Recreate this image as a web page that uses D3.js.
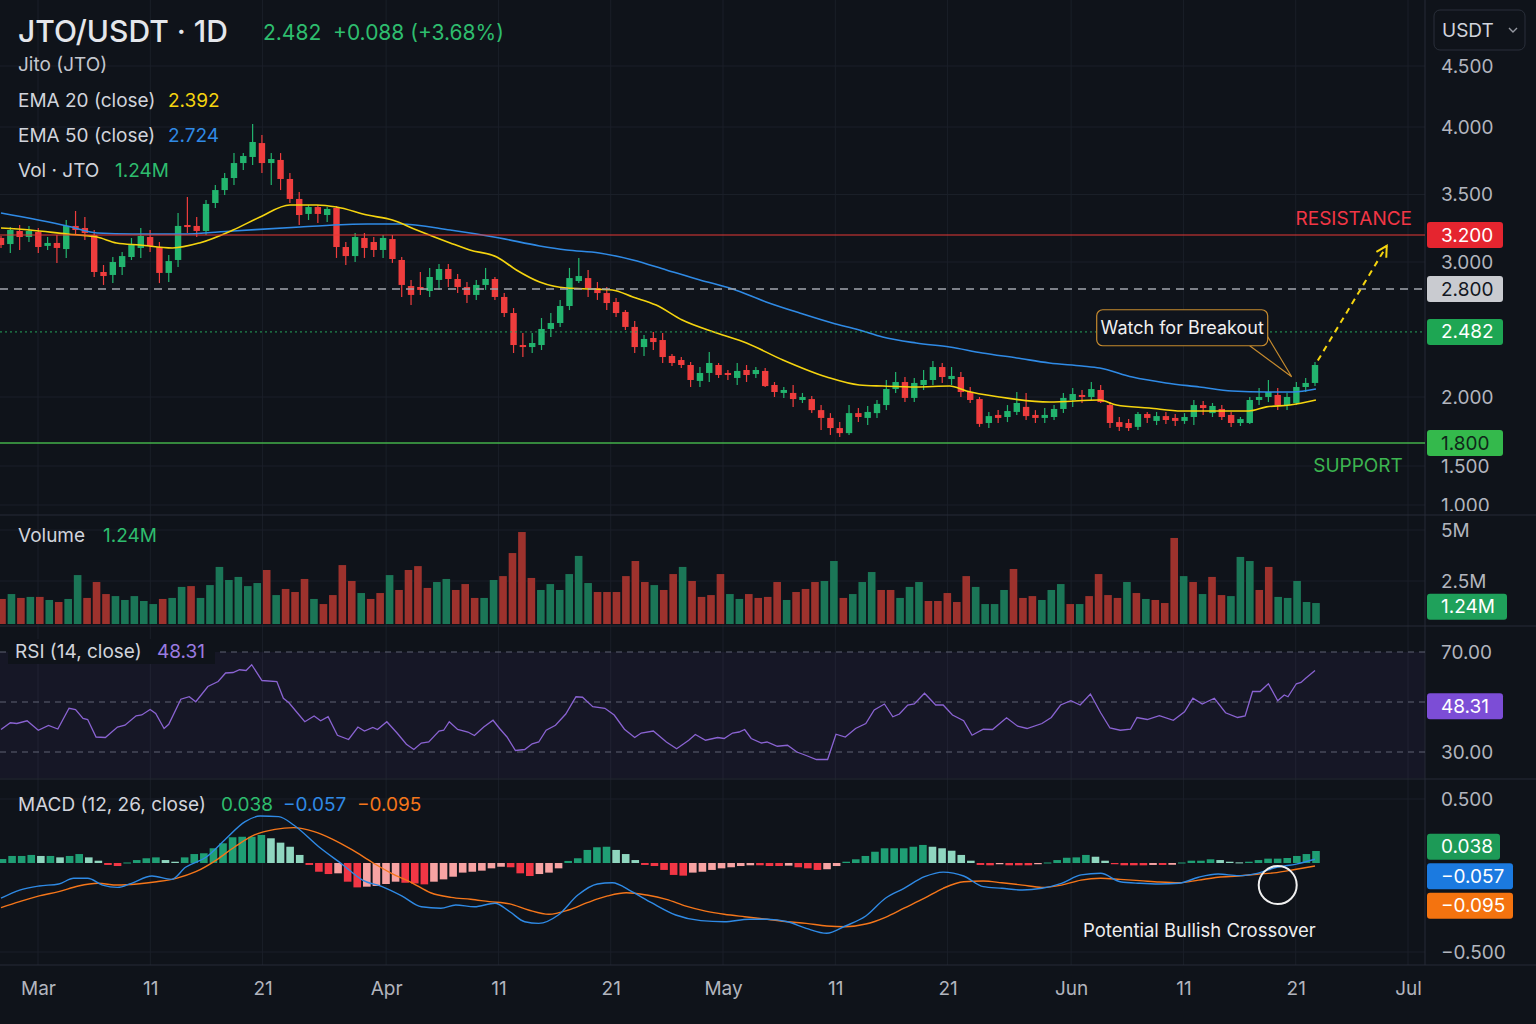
<!DOCTYPE html>
<html><head><meta charset="utf-8">
<script src="https://cdn.jsdelivr.net/npm/d3@7"></script>
<style>
html,body{margin:0;padding:0;background:#0f131a;}
svg{display:block;font-family:Inter,"Noto Sans",Roboto,sans-serif;}
</style></head><body>
<svg id="c" width="1536" height="1024"></svg>
<script>
// ---------------- DATA ----------------
// Daily candles [open, high, low, close]
const candles = [
[3.178,3.193,3.104,3.126],[3.133,3.259,3.067,3.237],[3.230,3.274,3.089,3.185],[3.185,3.267,3.148,3.230],[3.222,3.252,3.067,3.111],
[3.119,3.185,3.089,3.141],[3.141,3.200,2.993,3.104],[3.096,3.311,3.030,3.267],[3.267,3.378,3.200,3.237],[3.252,3.333,3.163,3.215],
[3.200,3.237,2.889,2.926],[2.926,2.978,2.830,2.896],[2.904,3.037,2.844,3.000],[2.963,3.074,2.904,3.044],[3.037,3.178,3.015,3.126],
[3.104,3.252,3.030,3.193],[3.185,3.237,3.074,3.119],[3.111,3.148,2.844,2.919],[2.919,3.052,2.852,3.007],[3.015,3.363,2.963,3.267],
[3.274,3.481,3.215,3.259],[3.267,3.333,3.185,3.230],[3.230,3.459,3.200,3.430],[3.437,3.570,3.400,3.533],[3.533,3.659,3.496,3.622],
[3.622,3.807,3.570,3.733],[3.733,3.807,3.681,3.785],[3.778,4.025,3.719,3.889],[3.881,3.941,3.659,3.733],[3.733,3.807,3.570,3.763],
[3.756,3.807,3.533,3.615],[3.615,3.659,3.437,3.467],[3.467,3.519,3.274,3.348],[3.356,3.422,3.311,3.407],[3.407,3.422,3.289,3.356],
[3.348,3.407,3.296,3.393],[3.400,3.415,3.030,3.111],[3.111,3.148,2.978,3.044],[3.044,3.215,3.000,3.185],[3.178,3.215,3.030,3.104],
[3.148,3.185,3.037,3.089],[3.089,3.200,3.030,3.178],[3.170,3.200,2.993,3.022],[3.015,3.037,2.741,2.830],[2.822,2.867,2.681,2.756],
[2.815,2.926,2.756,2.793],[2.785,2.956,2.741,2.889],[2.867,2.985,2.793,2.948],[2.948,2.985,2.815,2.874],[2.874,2.911,2.770,2.815],
[2.815,2.852,2.696,2.756],[2.756,2.867,2.719,2.830],[2.830,2.956,2.793,2.874],[2.874,2.889,2.719,2.741],[2.741,2.770,2.593,2.622],
[2.622,2.659,2.326,2.385],[2.385,2.474,2.296,2.370],[2.370,2.474,2.326,2.400],[2.385,2.585,2.348,2.504],[2.504,2.622,2.444,2.548],
[2.548,2.719,2.519,2.674],[2.674,2.956,2.644,2.881],[2.859,3.030,2.844,2.896],[2.881,2.941,2.741,2.807],[2.807,2.852,2.719,2.770],
[2.770,2.815,2.644,2.696],[2.704,2.733,2.593,2.622],[2.630,2.644,2.496,2.519],[2.519,2.563,2.326,2.370],[2.370,2.459,2.304,2.430],
[2.437,2.481,2.348,2.407],[2.422,2.474,2.252,2.296],[2.304,2.319,2.230,2.252],[2.274,2.296,2.215,2.237],[2.237,2.259,2.074,2.126],
[2.119,2.222,2.074,2.178],[2.178,2.333,2.111,2.252],[2.237,2.252,2.141,2.163],[2.178,2.200,2.126,2.163],[2.141,2.252,2.089,2.193],
[2.200,2.237,2.111,2.163],[2.170,2.222,2.141,2.200],[2.193,2.215,2.074,2.081],[2.089,2.111,2.000,2.037],[2.030,2.074,1.996,2.052],
[2.030,2.089,1.957,1.991],[1.987,2.030,1.974,2.000],[1.991,2.007,1.930,1.943],[1.943,1.965,1.857,1.909],[1.909,1.930,1.835,1.865],
[1.865,1.891,1.826,1.843],[1.843,1.965,1.835,1.930],[1.930,1.952,1.891,1.913],[1.909,1.961,1.878,1.935],[1.930,1.987,1.909,1.970],
[1.965,2.126,1.943,2.059],[2.059,2.185,2.030,2.111],[2.111,2.148,1.978,1.996],[1.996,2.141,1.978,2.104],[2.089,2.200,2.052,2.126],
[2.126,2.267,2.089,2.222],[2.222,2.252,2.104,2.148],[2.133,2.222,2.089,2.156],[2.148,2.185,2.000,2.037],[2.037,2.074,1.974,1.987],
[1.991,2.000,1.870,1.883],[1.887,1.935,1.865,1.917],[1.922,1.943,1.887,1.909],[1.913,1.965,1.891,1.939],[1.935,2.037,1.922,1.974],
[1.957,2.030,1.900,1.917],[1.922,1.943,1.887,1.909],[1.909,1.952,1.887,1.922],[1.913,1.965,1.900,1.948],[1.948,2.030,1.930,1.996],
[1.987,2.067,1.957,2.022],[2.015,2.052,1.974,2.000],[2.000,2.111,1.987,2.059],[2.052,2.089,1.974,1.978],[1.965,1.978,1.865,1.887],
[1.891,1.913,1.852,1.870],[1.887,1.904,1.852,1.865],[1.870,1.935,1.857,1.926],[1.926,1.935,1.887,1.909],[1.896,1.935,1.878,1.917],
[1.917,1.935,1.883,1.900],[1.909,1.926,1.874,1.896],[1.896,1.930,1.883,1.913],[1.913,1.987,1.878,1.965],[1.965,1.983,1.922,1.952],
[1.930,1.974,1.913,1.961],[1.948,1.965,1.900,1.913],[1.922,1.935,1.870,1.887],[1.887,1.913,1.874,1.904],[1.887,2.000,1.883,1.987],
[1.987,2.067,1.965,2.000],[2.000,2.126,1.978,2.037],[2.015,2.067,1.943,1.965],[1.965,2.030,1.943,2.000],[1.974,2.111,1.965,2.074],
[2.074,2.141,2.037,2.104],[2.104,2.259,2.081,2.237]
];

// EMA lines: [bar position, price]
const ema20 = [[0,3.252],[3.1,3.237],[7.1,3.207],[10.3,3.185],[12.4,3.141],[14.9,3.126],[18.4,3.104],[21.3,3.141],[24.9,3.237],[27.8,3.333],[31.0,3.422],[33.9,3.422],[36.0,3.407],[39.3,3.348],[42.0,3.311],[44.6,3.237],[48.2,3.141],[50.3,3.089],[53.2,3.037],[55.3,2.941],[57.8,2.852],[60.7,2.807],[63.5,2.800],[65.6,2.793],[67.8,2.741],[70.3,2.681],[73.1,2.570],[76.8,2.474],[80.0,2.400],[83.9,2.274],[88.6,2.148],[92.1,2.089],[94.6,2.081],[98.2,2.074],[101.8,2.081],[103.6,2.044],[107.1,2.000],[112.5,1.978],[117.9,1.987],[119.7,1.965],[123.2,1.952],[126.7,1.939],[133.9,1.939],[135.8,1.957],[138.3,1.965],[141.1,1.987]];
const ema50 = [[0,3.363],[7.1,3.267],[10.3,3.215],[14.2,3.207],[19.2,3.207],[24.9,3.230],[32.1,3.259],[39.3,3.281],[42.8,3.281],[48.2,3.237],[53.5,3.178],[57.8,3.119],[60.7,3.089],[64.2,3.067],[67.8,3.015],[71.4,2.941],[75.0,2.867],[78.5,2.800],[82.1,2.704],[85.7,2.622],[89.2,2.548],[92.1,2.496],[94.6,2.444],[98.2,2.400],[101.8,2.370],[105.3,2.326],[109.0,2.289],[112.5,2.252],[116.0,2.230],[117.9,2.215],[121.4,2.148],[125.0,2.104],[128.6,2.074],[132.1,2.044],[135.8,2.037],[138.6,2.037],[141.1,2.059]];

// Volume (millions) and direction (1 up, 0 down)
const volume = [1.62,1.86,1.67,1.72,1.72,1.57,1.47,1.62,2.79,1.67,2.45,1.86,1.76,1.57,1.76,1.52,1.37,1.62,1.67,2.21,
2.25,1.67,2.30,3.19,2.55,2.70,2.25,2.40,3.04,1.81,2.11,1.96,2.60,1.62,1.37,1.81,3.28,2.50,1.91,1.62,
1.91,2.79,2.06,3.04,3.23,2.16,2.45,2.60,2.06,2.35,1.67,1.67,2.55,2.74,3.87,4.90,2.65,2.06,2.35,2.06,
2.84,3.73,2.40,1.96,1.96,1.96,2.74,3.48,2.45,2.30,2.06,2.84,3.19,2.50,1.72,1.81,2.84,1.86,1.62,1.86,
1.67,1.72,2.45,1.57,1.96,2.11,2.45,2.50,3.48,1.67,1.86,2.45,2.94,2.06,2.06,1.67,2.21,2.45,1.52,1.52,
1.91,1.47,2.74,2.21,1.37,1.37,2.06,3.09,1.67,1.76,1.57,2.06,2.35,1.37,1.37,1.76,2.84,1.81,1.67,2.45,
1.91,1.62,1.57,1.42,4.61,2.74,2.45,1.86,2.70,1.81,1.76,3.68,3.48,2.06,3.19,1.72,1.67,2.50,1.47,1.42];
const volumeUp = [0,1,0,1,0,1,0,1,1,0,0,0,1,1,1,1,1,0,1,1,
0,1,1,1,1,1,1,1,0,1,0,0,0,1,0,0,0,0,1,0,
0,1,0,0,0,0,1,1,0,0,0,1,1,0,0,0,0,1,1,1,
1,1,1,0,0,0,0,0,0,1,0,0,1,0,0,0,0,1,1,0,
0,0,0,1,0,0,0,1,1,0,1,1,1,0,0,1,1,1,0,0,
0,0,0,1,1,1,1,0,0,0,1,1,1,0,1,0,0,0,0,1,
0,1,0,0,0,1,0,1,0,0,1,1,1,0,0,1,1,1,1,1];

// RSI(14): [bar position, value]
const rsi = [[0,39.0],[1.0,41.7],[1.7,41.4],[2.8,42.5],[4.0,38.7],[5.1,40.6],[6.1,39.2],[7.3,47.5],[8.0,47.0],[8.8,43.4],[9.3,43.0],[10.2,36.0],[11.2,35.8],[12.5,40.0],[13.3,40.7],[14.5,44.5],[15.1,44.8],[16.0,47.0],[16.6,45.4],[17.5,39.4],[18.0,41.1],[19.3,51.1],[20.2,52.1],[20.9,50.1],[22.2,56.2],[23.3,58.2],[24.1,61.6],[24.9,61.8],[25.6,62.9],[26.3,62.6],[26.9,64.9],[28.0,58.6],[29.6,58.2],[30.3,51.5],[30.9,49.7],[31.7,46.1],[32.6,42.1],[33.6,44.4],[34.3,42.5],[35.1,44.1],[36.1,36.7],[37.3,35.0],[38.3,40.0],[39.0,38.4],[39.9,39.8],[40.4,39.0],[41.4,42.1],[42.5,37.6],[43.5,33.1],[44.3,31.0],[45.1,33.6],[45.9,34.0],[47.0,38.4],[47.5,38.7],[48.1,42.1],[49.0,39.0],[50.1,38.0],[50.8,36.6],[51.8,40.0],[52.8,42.7],[53.5,39.4],[54.3,36.0],[55.2,30.6],[56.2,31.0],[57.0,33.3],[57.7,34.0],[58.5,38.7],[59.5,40.7],[60.6,45.2],[61.7,52.1],[62.4,51.9],[63.5,48.1],[64.8,47.5],[65.8,44.8],[66.9,39.1],[68.0,35.8],[68.7,37.6],[70.0,38.4],[71.4,34.0],[72.5,31.3],[73.8,34.7],[74.5,37.0],[75.6,34.7],[76.9,35.8],[77.6,35.4],[78.5,37.6],[79.2,38.0],[79.8,39.0],[80.5,35.4],[81.6,33.6],[82.2,34.0],[83.3,32.3],[84.4,32.7],[85.4,30.0],[86.4,28.6],[87.5,27.0],[88.7,27.0],[89.6,37.1],[90.6,36.0],[91.7,39.4],[92.8,41.4],[93.7,46.8],[94.8,49.2],[95.7,44.1],[96.4,45.2],[97.3,48.8],[98.0,49.2],[99.1,53.5],[100.3,48.8],[101.1,48.8],[102.1,44.8],[103.3,42.5],[104.2,36.7],[105.4,39.1],[106.4,39.0],[107.9,43.7],[109.1,40.3],[110.1,39.4],[111.7,41.4],[112.7,43.8],[113.7,48.8],[114.8,50.5],[115.8,48.8],[116.9,53.2],[118.0,45.7],[119.0,39.6],[120.1,38.7],[121.2,39.1],[121.9,43.8],[123.0,43.0],[124.3,44.5],[125.8,42.7],[127.0,46.1],[127.9,51.5],[128.9,49.2],[130.2,51.5],[131.4,45.7],[132.7,43.8],[133.5,44.4],[134.3,54.2],[135.1,54.2],[136.0,57.3],[137.0,50.5],[137.7,52.8],[138.1,52.1],[139.0,57.3],[139.5,57.8],[140.0,59.5],[141.0,62.6]];

// MACD(12,26) lines: [bar position, value]
const macdLine = [[0,-0.198],[2.0,-0.152],[4.1,-0.129],[6.2,-0.118],[7.8,-0.086],[9.3,-0.086],[10.9,-0.124],[12.5,-0.137],[14.0,-0.114],[16.2,-0.073],[18.3,-0.092],[19.8,-0.024],[22.0,0.045],[24.0,0.180],[26.2,0.323],[27.8,0.367],[29.8,0.362],[31.4,0.297],[34.1,0.127],[36.7,-0.011],[38.8,-0.096],[40.9,-0.133],[43.0,-0.185],[45.1,-0.246],[47.2,-0.254],[48.8,-0.236],[50.8,-0.246],[53.0,-0.226],[54.6,-0.274],[56.2,-0.330],[57.7,-0.339],[59.8,-0.292],[61.9,-0.180],[64.0,-0.118],[65.6,-0.111],[67.7,-0.161],[69.8,-0.223],[72.4,-0.292],[75.1,-0.324],[77.6,-0.330],[80.3,-0.316],[82.2,-0.316],[84.4,-0.330],[86.4,-0.367],[88.6,-0.395],[90.6,-0.354],[92.8,-0.298],[94.9,-0.198],[96.9,-0.142],[99.1,-0.077],[101.1,-0.051],[103.3,-0.073],[105.4,-0.133],[107.4,-0.142],[109.6,-0.152],[111.7,-0.142],[113.8,-0.114],[115.9,-0.067],[118.0,-0.058],[120.1,-0.105],[122.2,-0.114],[124.3,-0.118],[126.4,-0.114],[128.5,-0.080],[130.6,-0.062],[132.8,-0.071],[134.8,-0.058],[136.9,-0.024],[139.0,-0.006],[141.0,0.029]];
const signalLine = [[0,-0.251],[2.0,-0.217],[4.1,-0.185],[6.2,-0.161],[8.3,-0.129],[10.4,-0.114],[12.5,-0.124],[14.6,-0.118],[16.7,-0.105],[18.8,-0.086],[20.9,-0.049],[23.1,0.023],[25.1,0.127],[27.2,0.219],[29.4,0.263],[31.4,0.276],[33.6,0.245],[35.6,0.185],[37.7,0.102],[39.9,0.002],[41.9,-0.058],[44.1,-0.111],[46.1,-0.167],[48.3,-0.193],[50.4,-0.204],[52.4,-0.217],[54.6,-0.230],[56.6,-0.264],[58.8,-0.288],[60.9,-0.264],[62.9,-0.223],[65.1,-0.185],[67.1,-0.167],[69.3,-0.180],[71.4,-0.204],[73.5,-0.242],[75.6,-0.270],[77.6,-0.288],[79.8,-0.302],[82.2,-0.316],[84.4,-0.330],[86.4,-0.339],[88.6,-0.354],[90.6,-0.358],[92.8,-0.343],[94.9,-0.305],[96.9,-0.254],[99.1,-0.198],[101.1,-0.142],[103.3,-0.105],[105.4,-0.101],[107.4,-0.111],[109.6,-0.124],[111.7,-0.137],[113.8,-0.124],[115.9,-0.096],[118.0,-0.086],[120.1,-0.092],[122.2,-0.099],[124.3,-0.107],[126.4,-0.111],[128.5,-0.096],[130.6,-0.080],[132.8,-0.073],[134.8,-0.063],[136.9,-0.054],[139.0,-0.035],[141.0,-0.017]];
const macdHist = [0.031,0.055,0.055,0.063,0.055,0.055,0.044,0.055,0.070,0.044,0.018,-0.011,-0.017,0.004,0.023,0.037,0.044,0.023,0.010,0.044,
0.070,0.076,0.115,0.154,0.201,0.205,0.205,0.219,0.193,0.159,0.127,0.063,-0.011,-0.049,-0.062,-0.058,-0.105,-0.137,-0.133,-0.129,
-0.118,-0.105,-0.111,-0.115,-0.120,-0.105,-0.092,-0.077,-0.054,-0.049,-0.043,-0.030,-0.021,-0.024,-0.058,-0.073,-0.062,-0.054,-0.030,0.016,
0.037,0.102,0.123,0.127,0.102,0.070,0.023,-0.011,-0.017,-0.039,-0.067,-0.071,-0.054,-0.049,-0.039,-0.030,-0.024,-0.017,-0.013,-0.013,
-0.017,-0.017,-0.015,-0.024,-0.030,-0.039,-0.035,-0.017,0.010,0.029,0.055,0.088,0.115,0.115,0.115,0.127,0.141,0.127,0.115,0.096,
0.063,0.018,-0.011,-0.013,-0.007,-0.013,-0.013,-0.013,-0.007,0.004,0.023,0.041,0.044,0.063,0.049,0.018,-0.007,-0.013,-0.013,-0.013,
-0.011,-0.011,-0.010,0.004,0.018,0.018,0.029,0.023,0.010,0.005,0.010,0.023,0.034,0.034,0.039,0.055,0.070,0.094];

// Axis ticks and reference levels
const tickDates = ["2024-03-01","2024-03-11","2024-03-21","2024-04-01","2024-04-11","2024-04-21","2024-05-01","2024-05-11","2024-05-21","2024-06-01","2024-06-11","2024-06-21","2024-07-01"];
const priceTicks = [1.0,1.5,2.0,3.0,3.5,4.0,4.5];
const volumeTicks = [2.5,5];
const rsiTicks = [30,70];
const macdTicks = [-0.5,0.5];
const resistanceLevel = 3.2, referenceLevel = 2.8, lastPrice = 2.482, supportLevel = 1.8;
const header = {symbol:"JTO/USDT · 1D", name:"Jito (JTO)", price:"2.482", change:"+0.088 (+3.68%)", ema20:"2.392", ema50:"2.724", vol:"1.24M", rsi:"48.31", macd:"0.038", macdSig:"−0.057", macdHist:"−0.095"};
const lastVolume = 1.24, lastRsi = 48.31;
const macdBadges = [0.038,-0.057,-0.095];
const breakoutArrow = {from:[141.3,2.27], to:[148.7,3.12]};
const breakoutTip = [138.5,2.15];
const crossoverPoint = [137.0,-0.124];

// ---------------- LAYOUT ----------------
const W=1536,H=1024,XR=1425;
const P={mainTop:0,mainBot:514,volTop:516,volBot:624,rsiTop:627,rsiBot:778,macdTop:780,macdBot:965};
const C={bg:"#0f131a",grid:"#1a1f28",sep:"#262b36",text:"#d1d4dc",axis:"#b2b5be",up:"#22b46e",dn:"#ef3d3d",
 yellow:"#f5d40f",blue:"#2f8ae5",green:"#2ebd6e",purple:"#8a63d2",orange:"#f5761a"};
const FONT="Inter,'Noto Sans',Roboto,sans-serif";

const svg=d3.select("#c");
svg.append("rect").attr("width",W).attr("height",H).attr("fill",C.bg);
const defs=svg.append("defs");
function clip(id,y0,y1,w){defs.append("clipPath").attr("id",id).append("rect").attr("x",0).attr("y",y0).attr("width",w||XR).attr("height",y1-y0);}
clip("cpMain",P.mainTop,P.mainBot);clip("cpVol",P.volTop,P.volBot);clip("cpRsi",P.rsiTop,P.rsiBot);clip("cpMacd",P.macdTop,P.macdBot);
clip("cpAxisMain",P.mainTop,P.mainBot-3,W);

// scales
const x=d3.scaleLinear().domain([0,candles.length-1]).range([1,1315]);
const y=d3.scaleLinear().domain([1.0,1.5,1.8,2.0,4.0,4.5]).range([505,466,443,397,127,66]);
const tx=d3.scaleUtc().domain([new Date("2024-03-01"),new Date("2024-07-01")]).range([38,1408]);
const vx=d3.scaleLinear().domain([0,volume.length-1]).range([2,1316]);
const vy=d3.scaleLinear().domain([0,5]).range([632,530]);
const ry=d3.scaleLinear().domain([30,70]).range([752,652]);
const hx=d3.scaleLinear().domain([0,macdHist.length-1]).range([2.5,1316]);
const my=d3.scaleLinear().domain([-0.5,0,0.5]).range([952,863,799]);

// grid
const gGrid=svg.append("g");
const dates=tickDates.map(s=>new Date(s));
gGrid.selectAll("line.v").data(dates).join("line").attr("x1",d=>tx(d)).attr("x2",d=>tx(d)).attr("y1",0).attr("y2",P.macdBot).attr("stroke",C.grid);
gGrid.selectAll("line.hp").data(priceTicks).join("line").attr("x1",0).attr("x2",XR).attr("y1",d=>y(d)).attr("y2",d=>y(d)).attr("stroke",C.grid);
gGrid.selectAll("line.hv").data(volumeTicks).join("line").attr("x1",0).attr("x2",XR).attr("y1",d=>vy(d)).attr("y2",d=>vy(d)).attr("stroke",C.grid);
gGrid.selectAll("line.hm").data(macdTicks).join("line").attr("x1",0).attr("x2",XR).attr("y1",d=>my(d)).attr("y2",d=>my(d)).attr("stroke",C.grid);

// RSI band
svg.append("rect").attr("x",0).attr("y",ry(70)).attr("width",XR).attr("height",P.rsiBot-ry(70)).attr("fill","#7e57c2").attr("opacity",0.07);

// separators
const seps=[P.volTop-1,P.rsiTop-1,P.macdTop-1,P.macdBot];
svg.selectAll("line.sep").data(seps).join("line").attr("x1",0).attr("x2",W).attr("y1",d=>d).attr("y2",d=>d).attr("stroke",C.sep);
svg.append("line").attr("x1",XR).attr("x2",XR).attr("y1",0).attr("y2",P.macdBot).attr("stroke",C.sep);

// ---------------- MAIN PANE ----------------
const gMain=svg.append("g").attr("clip-path","url(#cpMain)");
const isUp=d=>d[3]>=d[0];
gMain.selectAll("line.wick").data(candles).join("line")
 .attr("x1",(d,i)=>x(i)).attr("x2",(d,i)=>x(i)).attr("y1",d=>y(d[1])).attr("y2",d=>y(d[2]))
 .attr("stroke",d=>isUp(d)?C.up:C.dn).attr("stroke-width",1.2);
gMain.selectAll("rect.body").data(candles).join("rect")
 .attr("x",(d,i)=>x(i)-3.2).attr("width",6.4)
 .attr("y",d=>y(Math.max(d[0],d[3]))).attr("height",d=>Math.max(1.5,Math.abs(y(d[0])-y(d[3]))))
 .attr("fill",d=>isUp(d)?C.up:C.dn);

const lineP=d3.line().x(d=>x(d[0])).y(d=>y(d[1])).curve(d3.curveMonotoneX);
gMain.append("path").datum(ema50).attr("d",lineP).attr("fill","none").attr("stroke",C.blue).attr("stroke-width",1.6);
gMain.append("path").datum(ema20).attr("d",lineP).attr("fill","none").attr("stroke",C.yellow).attr("stroke-width",1.6);

// levels
gMain.append("line").attr("x1",0).attr("x2",XR).attr("y1",y(resistanceLevel)).attr("y2",y(resistanceLevel)).attr("stroke","#e53935").attr("stroke-width",1.2);
gMain.append("line").attr("x1",0).attr("x2",XR).attr("y1",y(referenceLevel)).attr("y2",y(referenceLevel)).attr("stroke","#a3a6ae").attr("stroke-width",1.3).attr("stroke-dasharray","8,6");
gMain.append("line").attr("x1",0).attr("x2",XR).attr("y1",y(lastPrice)).attr("y2",y(lastPrice)).attr("stroke","#26a65b").attr("stroke-width",1).attr("stroke-dasharray","2,3");
gMain.append("line").attr("x1",0).attr("x2",XR).attr("y1",y(supportLevel)).attr("y2",y(supportLevel)).attr("stroke","#43b04a").attr("stroke-width",1.3);

function txt(g,x0,y0,s,opt){opt=opt||{};return g.append("text").attr("x",x0).attr("y",y0).attr("dominant-baseline","central")
 .attr("font-size",opt.size||19).attr("font-weight",opt.weight||400).attr("fill",opt.fill||C.text).attr("text-anchor",opt.anchor||"start").attr("font-family",FONT).text(s);}

txt(svg,1412,y(resistanceLevel)-17,"RESISTANCE",{fill:"#f23645",anchor:"end",size:19});
txt(svg,1358,y(supportLevel)+22,"SUPPORT",{fill:"#3cb550",anchor:"middle",size:19});

// breakout arrow
const a0=[x(breakoutArrow.from[0]),y(breakoutArrow.from[1])],a1=[x(breakoutArrow.to[0]),y(breakoutArrow.to[1])];
svg.append("line").attr("x1",a0[0]).attr("y1",a0[1]).attr("x2",a1[0]).attr("y2",a1[1]).attr("stroke",C.yellow).attr("stroke-width",2).attr("stroke-dasharray","6,5");
const ang=Math.atan2(a1[1]-a0[1],a1[0]-a0[0]);
const ah=12,aw=0.5;
svg.append("path").attr("d",`M${a1[0]+ah*Math.cos(ang+Math.PI-aw)},${a1[1]+ah*Math.sin(ang+Math.PI-aw)}L${a1[0]},${a1[1]}L${a1[0]+ah*Math.cos(ang+Math.PI+aw)},${a1[1]+ah*Math.sin(ang+Math.PI+aw)}`)
 .attr("fill","none").attr("stroke",C.yellow).attr("stroke-width",2);

// callout
const tip=[x(breakoutTip[0]),y(breakoutTip[1])];
const bx1=tip[0]-24,bx0=bx1-171,by1=tip[1]-31,by0=by1-36;
svg.append("path").attr("d",`M${bx1-18},${by1}L${tip[0]},${tip[1]}L${bx1},${by1-9}`).attr("fill","none").attr("stroke","#c58a2e").attr("stroke-width",1.2);
svg.append("rect").attr("x",bx0).attr("y",by0).attr("width",bx1-bx0).attr("height",by1-by0).attr("rx",6).attr("fill","#10141c").attr("stroke","#c58a2e").attr("stroke-width",1.2);
txt(svg,(bx0+bx1)/2,(by0+by1)/2,"Watch for Breakout",{fill:"#f0f0f0",anchor:"middle",size:18});

// ---------------- VOLUME ----------------
const gVol=svg.append("g").attr("clip-path","url(#cpVol)");
gVol.selectAll("rect").data(volume).join("rect")
 .attr("x",(d,i)=>vx(i)-3.8).attr("width",7.6).attr("y",d=>vy(d)).attr("height",d=>P.volBot-vy(d))
 .attr("fill",(d,i)=>volumeUp[i]?"#1c7f5c":"#a9352f").attr("opacity",0.92);

// ---------------- RSI ----------------
const gRsi=svg.append("g").attr("clip-path","url(#cpRsi)");
gRsi.selectAll("line.rl").data([70,50,30]).join("line").attr("x1",0).attr("x2",XR).attr("y1",d=>ry(d)).attr("y2",d=>ry(d))
 .attr("stroke","#5f6372").attr("stroke-width",1.2).attr("stroke-dasharray","6,5");
gRsi.append("path").datum(rsi).attr("d",d3.line().x(d=>x(d[0])).y(d=>ry(d[1]))).attr("fill","none").attr("stroke",C.purple).attr("stroke-width",1.3);

// ---------------- MACD ----------------
const gMacd=svg.append("g").attr("clip-path","url(#cpMacd)");
function histColor(v,i){const p=i>0?macdHist[i-1]:v;if(v>=0)return v>=p?"#1f9e74":"#8fd6bf";return v<=p?"#f23645":"#f7a3a3";}
gMacd.selectAll("rect").data(macdHist).join("rect")
 .attr("x",(d,i)=>hx(i)-3.8).attr("width",7.6)
 .attr("y",d=>Math.min(my(d),my(0))).attr("height",d=>Math.max(1,Math.abs(my(d)-my(0))))
 .attr("fill",(d,i)=>histColor(d,i));
const lineM=d3.line().x(d=>x(d[0])).y(d=>my(d[1])).curve(d3.curveMonotoneX);
gMacd.append("path").datum(signalLine).attr("d",lineM).attr("fill","none").attr("stroke",C.orange).attr("stroke-width",1.4);
gMacd.append("path").datum(macdLine).attr("d",lineM).attr("fill","none").attr("stroke",C.blue).attr("stroke-width",1.4);
const cp=[x(crossoverPoint[0]),my(crossoverPoint[1])];
svg.append("circle").attr("cx",cp[0]).attr("cy",cp[1]).attr("r",19).attr("fill","none").attr("stroke","#f0f0f0").attr("stroke-width",2);
txt(svg,cp[0]+38,cp[1]+45,"Potential Bullish Crossover",{fill:"#eeeeee",anchor:"end",size:18.5});

// ---------------- HEADERS ----------------
txt(svg,18,31,header.symbol,{size:30,weight:500,fill:"#e4e6eb"});
txt(svg,263,32,header.price,{size:21,fill:C.green});
txt(svg,333,32,header.change,{size:21,fill:C.green});
txt(svg,18,64,header.name,{fill:"#c3c6ce"});
txt(svg,18,100,"EMA 20 (close)");txt(svg,168,100,header.ema20,{fill:C.yellow});
txt(svg,18,135,"EMA 50 (close)");txt(svg,168,135,header.ema50,{fill:C.blue});
txt(svg,18,170,"Vol · JTO");txt(svg,115,170,header.vol,{fill:C.green});
txt(svg,18,535,"Volume");txt(svg,103,535,header.vol,{fill:C.green});
svg.append("rect").attr("x",8).attr("y",639).attr("width",207).attr("height",25).attr("fill",C.bg);
txt(svg,15,651,"RSI (14, close)");txt(svg,157,651,header.rsi,{fill:"#9b7be0"});
txt(svg,18,804,"MACD (12, 26, close)");txt(svg,221,804,header.macd,{fill:C.green});
txt(svg,283,804,header.macdSig,{fill:C.blue});txt(svg,357,804,header.macdHist,{fill:C.orange});

// USDT selector
svg.append("rect").attr("x",1434).attr("y",10).attr("width",91).attr("height",40).attr("rx",6).attr("fill",C.bg).attr("stroke","#2a2f3a");
txt(svg,1442,30,"USDT",{fill:"#d1d4dc"});
svg.append("path").attr("d","M1509,28L1513,32L1517,28").attr("fill","none").attr("stroke","#9598a1").attr("stroke-width",1.4);

// ---------------- AXES ----------------
function styleAxis(g){g.select(".domain").remove();g.selectAll(".tick line").remove();
 g.selectAll("text").attr("fill",C.axis).attr("font-size",19).attr("font-family",FONT);}
const fmt3=d3.format(".3f");
svg.append("g").attr("transform","translate(1441,0)").attr("clip-path","url(#cpAxisMain)")
 .call(d3.axisRight(y).tickValues(priceTicks).tickFormat(fmt3).tickSize(0).tickPadding(0)).call(styleAxis);
svg.append("g").attr("transform","translate(1441,0)")
 .call(d3.axisRight(vy).tickValues(volumeTicks).tickFormat(d=>d+"M").tickSize(0).tickPadding(0)).call(styleAxis);
svg.append("g").attr("transform","translate(1441,0)")
 .call(d3.axisRight(ry).tickValues(rsiTicks).tickFormat(d3.format(".2f")).tickSize(0).tickPadding(0)).call(styleAxis);
svg.append("g").attr("transform","translate(1441,0)")
 .call(d3.axisRight(my).tickValues(macdTicks).tickFormat(d=>fmt3(d).replace("-","−")).tickSize(0).tickPadding(0)).call(styleAxis);
const tfmt=d=>d.getUTCDate()===1?d3.utcFormat("%b")(d):d3.utcFormat("%-d")(d);
svg.append("g").attr("transform","translate(0,978)")
 .call(d3.axisBottom(tx).tickValues(dates).tickFormat(tfmt).tickSize(0).tickPadding(0)).call(styleAxis)
 .selectAll("text").attr("dy","0.35em").attr("y",10);

// ---------------- BADGES ----------------
function badge(yc,label,bg,fg,w){svg.append("rect").attr("x",1427).attr("y",yc-13).attr("width",w).attr("height",26).attr("rx",3).attr("fill",bg);
 txt(svg,1441,yc,label,{fill:fg});}
badge(y(resistanceLevel),fmt3(resistanceLevel),"#e5252f","#ffffff",76);
badge(y(referenceLevel),fmt3(referenceLevel),"#c9cbd0","#131722",76);
badge(y(lastPrice),fmt3(lastPrice),"#1ea653","#ffffff",76);
badge(y(supportLevel),fmt3(supportLevel),"#34b94c","#10261a",76);
badge(vy(lastVolume),lastVolume+"M","#1fa15b","#ffffff",80);
badge(ry(lastRsi),d3.format(".2f")(lastRsi),"#7c4dd6","#ffffff",76);
// MACD badges stacked below the MACD value to avoid overlap
const mid=my(macdBadges[1])+3;
const macdCols=[["#1d9a57",73],["#1b7ae0",86],["#f4730f",86]];
macdBadges.forEach((v,i)=>badge(mid+(i-1)*29.5,fmt3(v).replace("-","−"),macdCols[i][0],"#ffffff",macdCols[i][1]));
</script></body></html>
